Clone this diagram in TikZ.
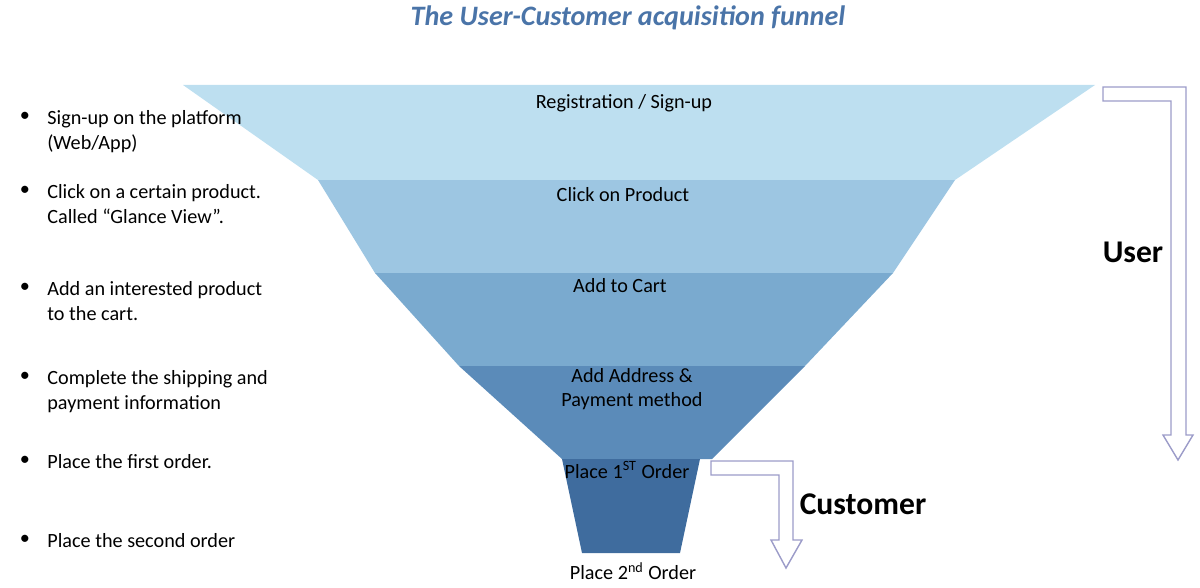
\documentclass[tikz,border=0pt]{standalone}
\usepackage{fontspec}
\setmainfont{Carlito}
\begin{document}
\begin{tikzpicture}[x=0.02cm,y=-0.02cm,
  lbl/.style={font=\fontsize{11.5}{14}\selectfont, align=center},
  bul/.style={font=\fontsize{11.5}{14.5}\selectfont, align=left, anchor=north west, inner sep=0},
  dot/.style={font=\fontsize{11.5}{14}\selectfont, anchor=north, inner sep=0},
  big/.style={font=\fontsize{18}{20}\selectfont\bfseries},
  outl/.style={draw=blue!30!gray!60, fill=white, line width=0.8pt, line join=miter}]
\definecolor{c1}{HTML}{BDDFF0}\definecolor{c2}{HTML}{9DC6E2}\definecolor{c3}{HTML}{7AAACF}
\definecolor{c4}{HTML}{5B8BB9}\definecolor{c5}{HTML}{3F6C9E}\definecolor{tt}{HTML}{4A74A8}
\useasboundingbox (0,0) rectangle (1200,588);
\node[font=\fontsize{16}{18}\selectfont\bfseries\itshape, text=tt] (title) at (628,18) {The User-Customer acquisition funnel};
\fill[c1] (183,85) -- (1095,85) -- (955,180) -- (318,180) -- cycle;
\fill[c2] (318,180) -- (955,180) -- (893,273) -- (375,273) -- cycle;
\fill[c3] (375,273) -- (893,273) -- (805,366) -- (459,366) -- cycle;
\fill[c4] (459,366) -- (805,366) -- (712,459) -- (562,459) -- cycle;
\fill[c5] (562,459) -- (700,459) -- (680,553) -- (582,553) -- cycle;
\node[lbl] (l1) at (624,103) {Registration / Sign-up};
\node[lbl] (l2) at (623,195) {Click on Product};
\node[lbl] (l3) at (620,286) {Add to Cart};
\node[lbl] (l4) at (632,389) {Add Address \&\\Payment method};
\node[lbl] (l5) at (627,470) {Place 1\textsuperscript{ST} Order};
\node[lbl] (l6) at (633,571) {Place 2\textsuperscript{nd} Order};
\draw[outl] (1103,87) -- (1186,87) -- (1186,435) -- (1193,435) -- (1178,460) -- (1163,435) -- (1171,435) -- (1171,101) -- (1103,101) -- cycle;
\draw[outl] (711,461) -- (793,461) -- (793,540) -- (802,540) -- (786,568) -- (771,540) -- (779,540) -- (779,475) -- (711,475) -- cycle;
\node[big] (user) at (1133,252) {User};
\node[big] (cust) at (863,504) {Customer};
\foreach \y/\t [count=\i] in {110/{Sign-up on the platform\\(Web/App)},184/{Click on a certain product.\\Called ``Glance View''.},281/{Add an interested product\\to the cart.},370/{Complete the shipping and\\payment information},454/{Place the first order.},533/{Place the second order}}{
  \node[dot] (d\i) at (25,\y+2) {\textbullet};
  \node[bul] (b\i) at (47,\y) {\t};
}
\end{tikzpicture}
\end{document}
